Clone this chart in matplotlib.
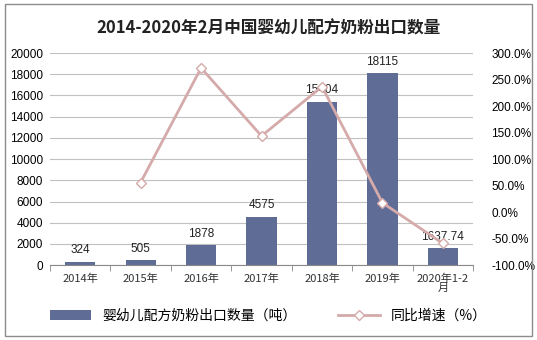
import matplotlib.pyplot as plt
import matplotlib.patches as patches

plt.rcParams['font.family'] = ['Noto Sans CJK SC', 'DejaVu Sans']

years = ['2014年', '2015年', '2016年', '2017年', '2018年', '2019年', '2020年1-2\n月']
export_tons = [324, 505, 1878, 4575, 15404, 18115, 1637.74]
export_labels = ['324', '505', '1878', '4575', '15404', '18115', '1637.74']
growth_pct = [None, 55.9, 271.9, 143.6, 236.7, 17.6, -59.0]

bar_color = '#5f6d96'
line_color = '#d5aaaa'
grid_color = '#c0c0c0'

fig = plt.figure(figsize=(5.37, 3.40), dpi=100)
fig.patches.append(patches.Rectangle((0.009, 0.012), 0.982, 0.976, transform=fig.transFigure,
                                     fill=False, edgecolor='#8c8c8c', linewidth=1.0))

ax = fig.add_axes([0.093, 0.22, 0.788, 0.624])
x = range(len(years))
ax.bar(x, export_tons, width=0.5, color=bar_color, zorder=2,
       label='婴幼儿配方奶粉出口数量（吨）')
for i, (v, s) in enumerate(zip(export_tons, export_labels)):
    ax.text(i, v + 500, s, ha='center', va='bottom', fontsize=8.5,
            family=['Liberation Sans'], color='#222222', zorder=5)

ax.set_xlim(-0.5, len(years) - 0.5)
ax.set_ylim(0, 20000)
ax.set_yticks(range(0, 20001, 2000))
ax.set_yticklabels([str(v) for v in range(0, 20001, 2000)], family=['Liberation Sans'], fontsize=8.5)
ax.set_xticks(x)
ax.set_xticklabels(years, fontsize=8, color='#333333', linespacing=0.9)
ax.set_xticks([i - 0.5 for i in range(len(years) + 1)], minor=True)
ax.tick_params(axis='x', which='major', length=0, pad=6)
ax.tick_params(axis='x', which='minor', length=4, color='#888888')
ax.tick_params(axis='y', length=0, pad=5)
ax.grid(axis='y', color=grid_color, linewidth=0.8, zorder=0)
for side in ['left', 'right', 'top']:
    ax.spines[side].set_visible(False)
ax.spines['bottom'].set_color('#888888')

ax2 = ax.twinx()
gx = [i for i, g in enumerate(growth_pct) if g is not None]
gy = [g for g in growth_pct if g is not None]
ax2.plot(gx, gy, color=line_color, linewidth=2, marker='D', markersize=5.5,
         markerfacecolor='white', markeredgecolor=line_color, zorder=4,
         label='同比增速（%）')
ax2.set_ylim(-100, 300)
ax2.set_yticks(range(-100, 301, 50))
ax2.set_yticklabels([f'{v:.1f}%' for v in range(-100, 301, 50)], family=['Liberation Sans'], fontsize=8.5)
ax2.tick_params(axis='y', length=0, pad=13)
for side in ['left', 'right', 'top', 'bottom']:
    ax2.spines[side].set_visible(False)

fig.text(0.5, 0.915, '2014-2020年2月中国婴幼儿配方奶粉出口数量', ha='center', va='center',
         fontsize=12, fontweight='bold', color='#222222')

h1, l1 = ax.get_legend_handles_labels()
h2, l2 = ax2.get_legend_handles_labels()
fig.legend(h1 + h2, l1 + l2, loc='center', bbox_to_anchor=(0.5, 0.072), ncol=2,
           frameon=False, fontsize=10, handlelength=3.0, columnspacing=3)

fig.savefig('out.png', dpi=100)
